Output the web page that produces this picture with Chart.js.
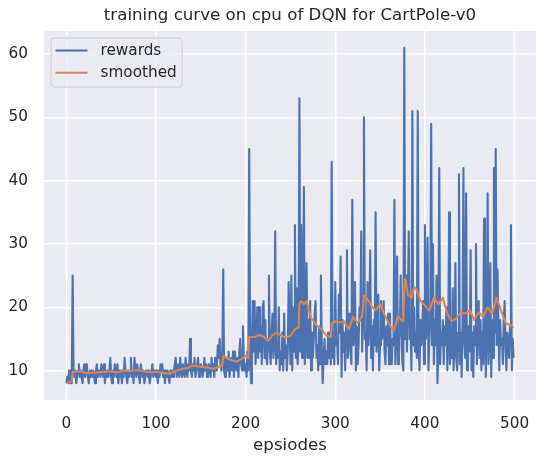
<!DOCTYPE html>
<html>
<head>
<meta charset="utf-8">
<script src="https://cdn.jsdelivr.net/npm/chart.js@4.4.1/dist/chart.umd.min.js"></script>
<style>
  html, body { margin: 0; padding: 0; background: #fff; }
  canvas { display: block; }
</style>
</head>
<body>
<canvas id="chart_1" width="548" height="458"></canvas>
<script>
// rewards per episode, episode = index (0..499)
var rewards = [
  8,9,8,10,8,9,8,25,10,9,
  10,8,9,10,11,9,10,9,8,10,
  11,9,11,10,9,8,10,9,10,9,
  10,9,8,10,11,9,10,10,9,11,
  10,9,11,8,10,9,10,9,10,12,
  9,8,10,9,11,10,9,11,8,10,
  9,10,8,10,9,12,10,9,8,10,
  9,10,12,9,10,8,12,10,9,11,
  10,9,8,11,10,9,10,8,9,10,
  10,9,10,8,9,10,11,9,10,10,
  9,10,8,10,9,11,10,11,9,10,
  8,10,9,10,9,8,10,9,10,9,
  10,11,12,9,10,11,9,12,10,9,
  11,10,9,12,10,9,11,10,15,10,
  9,11,10,12,9,10,11,12,9,10,
  11,10,9,10,12,10,11,9,10,11,
  10,9,12,10,11,9,12,10,11,14,
  12,15,11,10,13,26,10,9,12,11,
  10,13,9,11,12,10,13,9,13,11,
  10,12,9,13,15,11,10,17,12,10,
  11,9,13,10,45,12,8,15,21,13,
  21,11,14,20,12,20,13,17,11,20,
  21,12,18,12,11,15,25,13,11,16,
  19,12,14,32,11,14,12,20,10,13,
  11,16,10,19,12,14,10,13,24,17,
  11,25,10,20,13,33,12,23,11,14,
  53,13,33,12,20,39,11,15,27,12,
  18,12,21,10,16,12,15,19,21,12,
  14,10,17,11,25,13,8,12,15,11,
  13,11,16,12,15,11,43,12,14,11,
  24,14,15,11,22,16,28,9,18,13,
  16,10,17,29,12,15,19,13,11,37,
  14,16,24,10,17,11,14,20,18,32,
  13,20,50,15,16,10,24,14,18,29,
  12,17,10,18,14,35,13,16,22,10,
  14,21,15,16,21,13,11,17,14,19,
  11,19,13,11,15,14,37,11,16,28,
  11,15,16,25,14,11,10,61,15,25,
  13,22,32,15,17,10,51,14,20,13,
  16,12,51,14,10,18,14,17,21,11,
  33,15,17,31,10,15,18,49,14,30,
  11,18,14,25,8,13,42,11,16,14,
  18,11,17,14,20,10,15,35,11,15,
  12,23,10,14,27,12,10,16,41,11,
  16,9,18,42,14,12,38,10,15,17,
  13,29,10,16,9,17,14,30,11,18,
  21,12,18,10,16,11,34,15,9,17,
  38,11,16,27,9,18,12,42,16,45,
  14,26,17,10,18,14,15,11,18,21,
  13,10,16,14,12,17,33,10,15,12
];

// smoothed curve at these episodes
var smoothEp = [
  0,5,6,7,10,
  15,20,25,30,35,40,45,50,55,60,
  65,70,75,80,85,90,95,100,105,110,
  115,120,125,130,135,140,145,150,155,160,
  165,170,174,175,180,185,190,195,200,203,
  204,210,215,220,225,230,235,240,245,250,
  255,259,260,262,265,268,270,273,275,280,
  285,290,295,296,300,305,310,315,320,325,
  330,332,335,340,345,350,355,360,365,370,
  375,376,377,378,381,385,388,390,395,400,
  405,410,415,420,425,430,435,440,445,450,
  455,460,465,470,475,480,485,490,495,499
];
var smoothVal = [
  8.0,8.2,8.3,9.8,9.8,
  9.9,9.7,9.6,9.7,9.7,9.8,9.8,9.9,9.7,9.8,
  10.0,9.9,10.0,10.1,9.9,9.8,9.7,9.8,9.7,9.6,
  9.5,9.8,10.1,10.3,10.4,10.8,10.7,10.6,10.5,10.4,
  10.3,10.6,10.8,12.3,11.9,11.6,11.4,11.8,12.3,12.0,
  15.3,15.3,15.6,15.4,14.7,15.6,16.0,15.5,15.2,15.5,
  16.5,16.8,20.5,21.0,20.5,21.0,19.8,18.3,18.0,17.0,
  16.5,15.5,15.3,17.4,17.8,17.6,17.8,16.5,18.5,17.5,
  18.6,21.8,21.5,20.3,19.5,20.5,18.8,17.4,16.2,18.6,
  17.8,17.8,23.0,24.5,22.0,21.5,23.2,23.0,21.0,20.3,
  19.5,21.5,20.5,21.5,19.0,17.8,18.3,19.2,19.0,19.5,
  18.0,19.2,18.5,20.0,19.0,21.5,19.5,17.5,17.2,16.8
];

var xTicks = [0, 100, 200, 300, 400, 500];
var yTicks = [10, 20, 30, 40, 50, 60];

var textColor = '#262626';
var fontFamily = "'DejaVu Sans', sans-serif";

var rewardPoints = [];
for (var i = 0; i < rewards.length; i++) {
  rewardPoints.push({x: i, y: rewards[i]});
}
var smoothPoints = [];
for (var j = 0; j < smoothEp.length; j++) {
  smoothPoints.push({x: smoothEp[j], y: smoothVal[j]});
}

// grey plot background like seaborn darkgrid
var areaBg = {
  id: 'areaBg',
  beforeDraw: function(chart) {
    var a = chart.chartArea, ctx = chart.ctx;
    ctx.save();
    ctx.fillStyle = '#EAEAF2';
    ctx.fillRect(a.left, a.top, a.right - a.left, a.bottom - a.top);
    ctx.restore();
  }
};

// legend box inside the plot, top left
var innerLegend = {
  id: 'innerLegend',
  afterDatasetsDraw: function(chart) {
    var ctx = chart.ctx;
    var a = chart.chartArea;
    var bx = a.left + 7, by = a.top + 7, bw = 131, bh = 49;
    ctx.save();
    ctx.beginPath();
    ctx.roundRect(bx, by, bw, bh, 3);
    ctx.fillStyle = 'rgba(234,234,242,0.8)';
    ctx.fill();
    ctx.strokeStyle = '#cccccc';
    ctx.lineWidth = 1;
    ctx.stroke();

    var items = chart.data.datasets;
    ctx.font = '15.28px ' + fontFamily;
    ctx.textBaseline = 'middle';
    for (var k = 0; k < items.length; k++) {
      var ly = by + 12.5 + k * 22.3;
      ctx.beginPath();
      ctx.moveTo(bx + 4.5, ly);
      ctx.lineTo(bx + 36.5, ly);
      ctx.strokeStyle = items[k].borderColor;
      ctx.lineWidth = 2.1;
      ctx.stroke();
      ctx.fillStyle = textColor;
      ctx.fillText(items[k].label, bx + 49.5, ly + 0.5);
    }
    ctx.restore();
  }
};

var ctx_1 = document.getElementById('chart_1').getContext('2d');
var chart_1 = new Chart(ctx_1, {
  type: 'line',
  data: {
    datasets: [{
      label: 'rewards',
      data: rewardPoints,
      borderColor: '#4C72B0',
      borderWidth: 2.1,
      pointRadius: 0,
      tension: 0,
      borderJoinStyle: 'round',
      order: 1
    }, {
      label: 'smoothed',
      data: smoothPoints,
      borderColor: '#DD8452',
      borderWidth: 2.1,
      pointRadius: 0,
      tension: 0,
      borderJoinStyle: 'round',
      order: 0
    }]
  },
  options: {
    responsive: false,
    animation: false,
    events: [],
    layout: {
      padding: {left: 0, right: 12, top: 0, bottom: 0}
    },
    plugins: {
      legend: {display: false},
      tooltip: {enabled: false},
      title: {
        display: true,
        fullSize: false,
        text: 'training curve on cpu of DQN for CartPole-v0',
        color: textColor,
        font: {family: fontFamily, size: 16.67, weight: 'normal'},
        padding: {top: 6, bottom: 5}
      }
    },
    scales: {
      x: {
        type: 'linear',
        min: -24.95,
        max: 523.95,
        afterBuildTicks: function(scale) {
          scale.ticks = xTicks.map(function(v) { return {value: v}; });
        },
        afterFit: function(scale) { scale.height = 58; },
        grid: {color: '#ffffff', lineWidth: 1.4, drawTicks: false},
        border: {display: false},
        ticks: {
          color: textColor,
          font: {family: fontFamily, size: 15.28},
          padding: 15,
          maxRotation: 0
        },
        title: {
          display: true,
          text: 'epsiodes',
          color: textColor,
          font: {family: fontFamily, size: 16.67},
          padding: {top: 0, bottom: 2}
        }
      },
      y: {
        type: 'linear',
        min: 5.35,
        max: 63.65,
        afterBuildTicks: function(scale) {
          scale.ticks = yTicks.map(function(v) { return {value: v}; });
        },
        afterFit: function(scale) { scale.width = 44; },
        grid: {color: '#ffffff', lineWidth: 1.4, drawTicks: false},
        border: {display: false},
        ticks: {
          color: textColor,
          font: {family: fontFamily, size: 15.28},
          padding: 16
        }
      }
    }
  },
  plugins: [areaBg, innerLegend]
});
</script>
</body>
</html>
